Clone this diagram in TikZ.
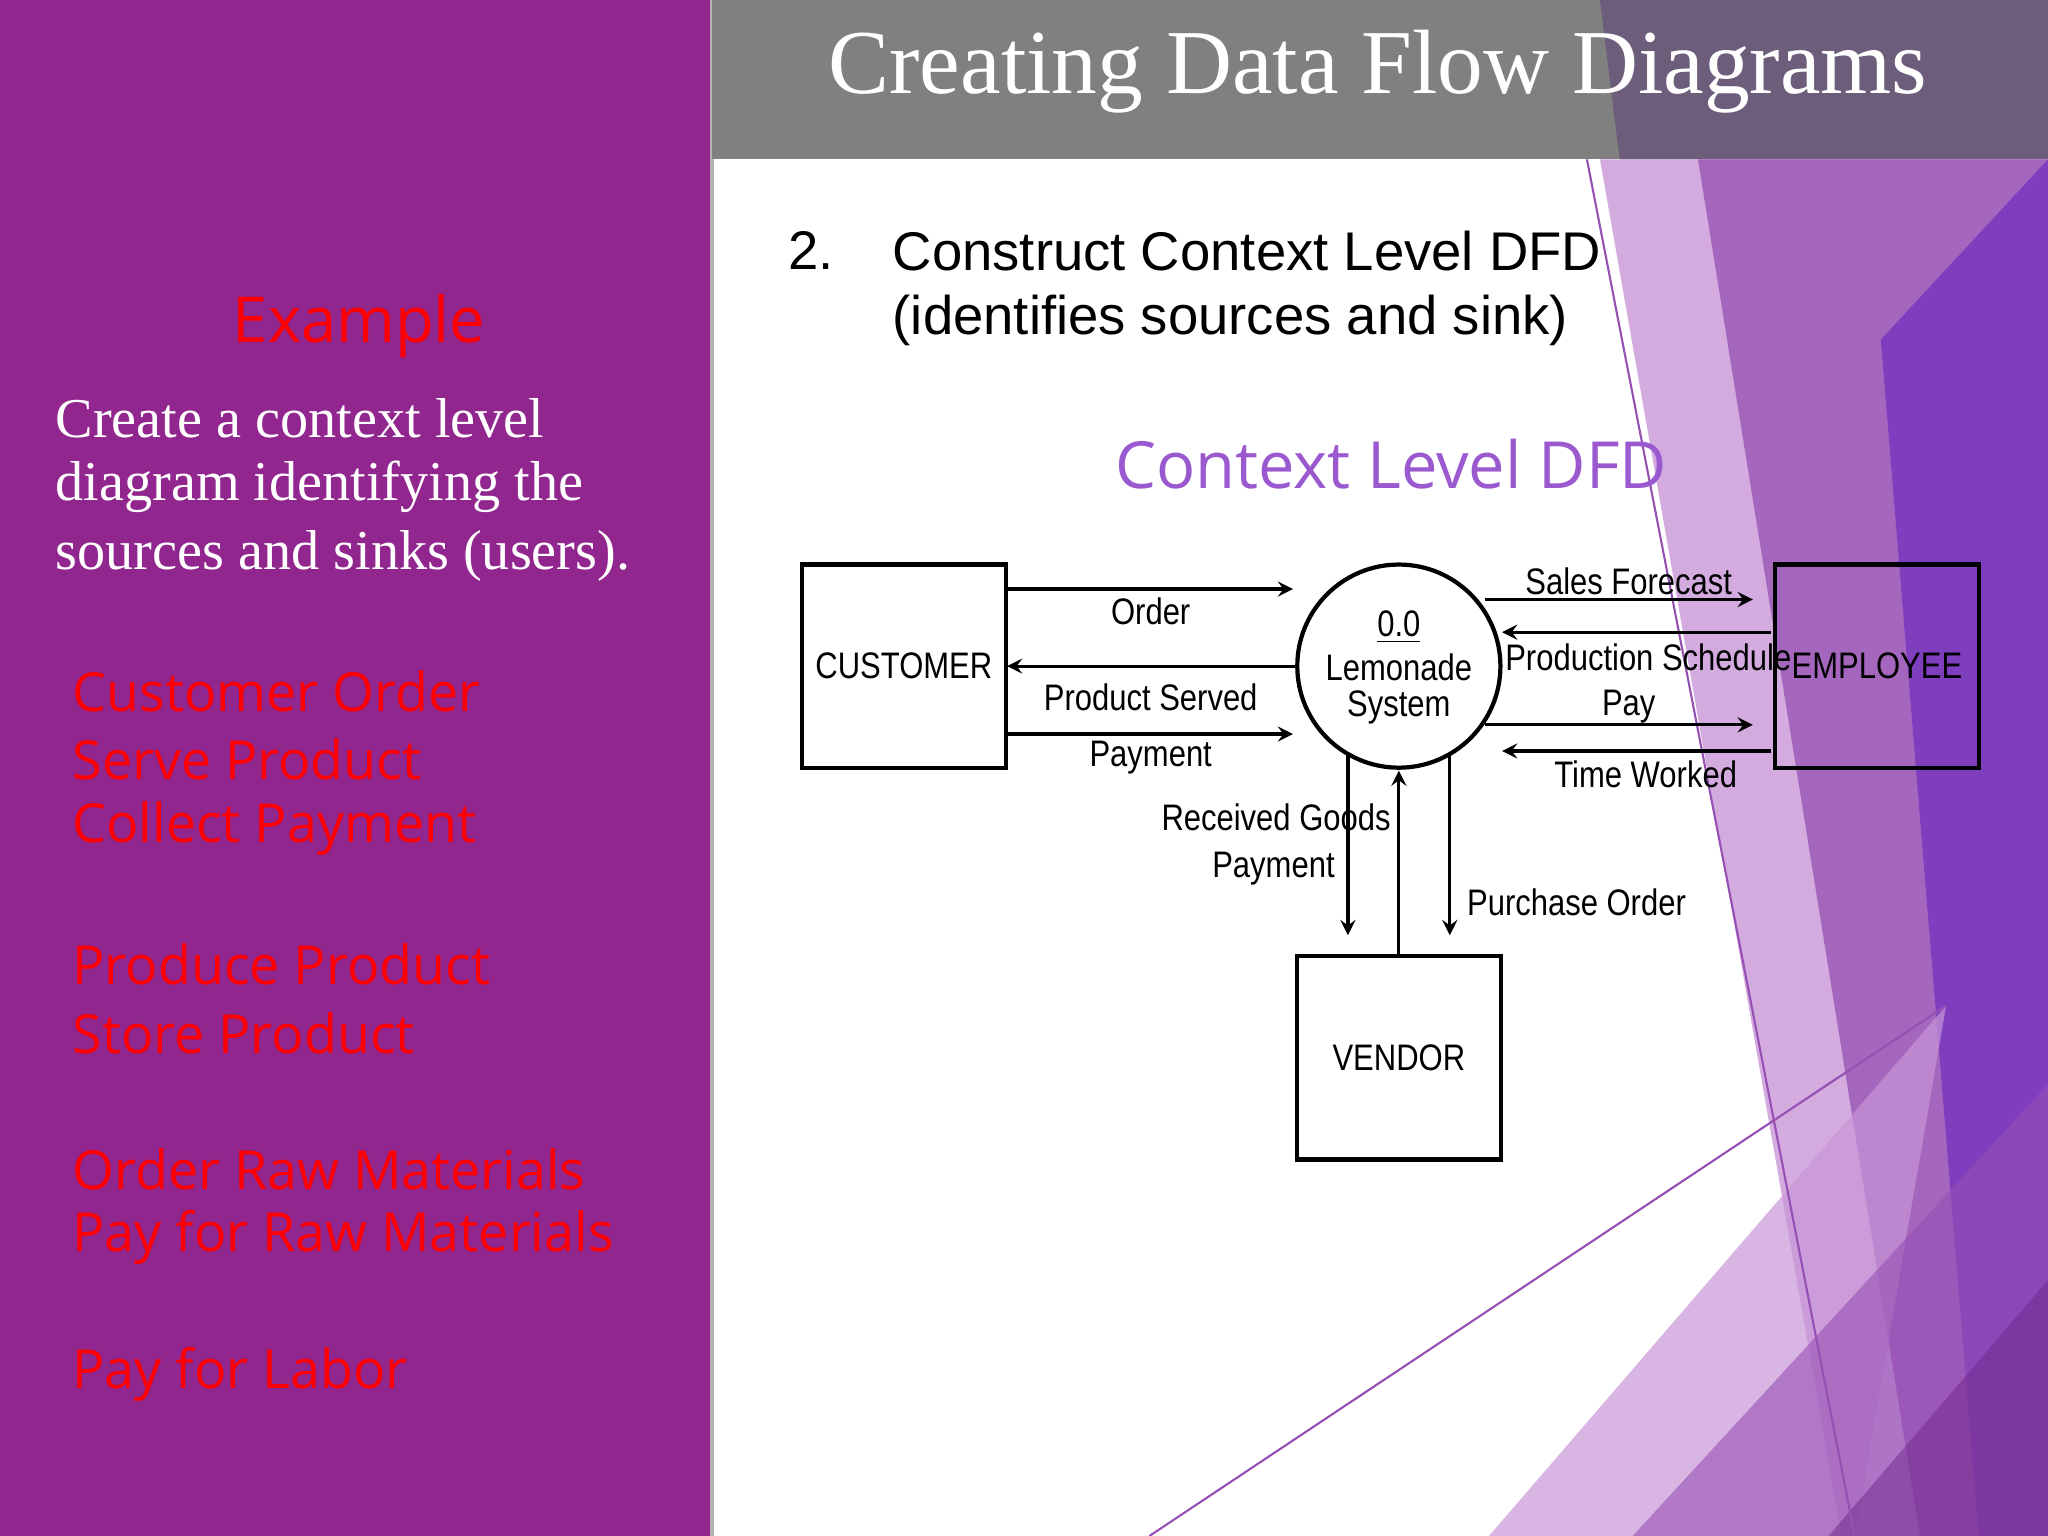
\documentclass[tikz,border=0pt]{standalone}
\usepackage{fontspec}
\usepackage{graphicx}
\setmainfont{Liberation Serif}
\setsansfont{Liberation Sans}
\newfontfamily\osans{Open Sans}
\newcommand\nar[1]{\scalebox{0.84}[1]{#1}}
\definecolor{lav}{RGB}{200,150,215}
\definecolor{mpur}{RGB}{150,80,180}
\definecolor{vio}{RGB}{120,55,190}
\definecolor{dpur}{RGB}{110,40,140}
\begin{document}
\begin{tikzpicture}[x=0.013061cm,y=-0.013061cm,
  ent/.style={draw,line width=1.2pt},
  flow/.style={->,line width=0.9pt,>=stealth},
  lab/.style={font=\sffamily\fontsize{10.5}{12}\selectfont,inner sep=0pt},
  red/.style={font=\osans\fontsize{15.3}{18}\selectfont,text=red,anchor=west,inner sep=0pt},
  wt/.style={font=\fontsize{16}{18}\selectfont,text=white,anchor=west,inner sep=0pt}]
\useasboundingbox (0,0) rectangle (1568,1176);
\fill[white] (0,0) rectangle (1568,1176);
% right decorations
\fill[lav,opacity=0.8] (1225,122) -- (1568,122) -- (1568,1176) -- (1410,1176) -- cycle;
\fill[mpur,opacity=0.75] (1300,122) -- (1568,122) -- (1568,1176) -- (1470,1176) -- cycle;
\fill[vio,opacity=0.85] (1568,122) -- (1568,1176) -- (1515,1176) -- (1440,260) -- cycle;
\fill[lav,opacity=0.7] (1140,1176) -- (1490,770) -- (1420,1176) -- cycle;
\fill[mpur,opacity=0.6] (1250,1176) -- (1568,830) -- (1568,1176) -- cycle;
\fill[dpur,opacity=0.5] (1400,1176) -- (1568,980) -- (1568,1176) -- cycle;
\draw[mpur,line width=0.6pt] (880,1176) -- (1490,770);
\draw[mpur,line width=0.6pt] (1215,122) -- (1420,1176);
% left panel
\fill[fill={rgb,255:red,146;green,38;blue,143}] (0,0) rectangle (545,1176);
\draw[gray!60,line width=1pt] (545,0) -- (545,1176);
% title bar
\fill[gray] (545,0) rectangle (1568,122);
\fill[vio!60!black,opacity=0.35] (1225,0) -- (1568,0) -- (1568,122) -- (1240,122) -- cycle;
\node[text=white,font=\fontsize{26}{30}\selectfont] (title) at (1055,55) {Creating Data Flow Diagrams};
% left text
\node[font=\osans\fontsize{18}{20}\selectfont,text=red] (ex) at (275,250) {Example};
\node[wt] (p1) at (42,320) {Create a context level};
\node[wt] (p2) at (42,373) {diagram identifying the};
\node[wt] (p3) at (42,426) {sources and sinks (users).};
\node[red] (r1) at (55,529) {Customer Order};
\node[red] (r2) at (55,581) {Serve Product};
\node[red] (r3) at (55,634) {Collect Payment};
\node[red] (r4) at (55,738) {Produce Product};
\node[red] (r5) at (55,791) {Store Product};
\node[red] (r6) at (55,895) {Order Raw Materials};
\node[red] (r7) at (55,947) {Pay for Raw Materials};
\node[red] (r8) at (55,1052) {Pay for Labor};
% right text
\node[font=\sffamily\fontsize{15.5}{18}\selectfont,anchor=west,inner sep=0pt] (n2) at (603,192) {2.};
\node[font=\sffamily\fontsize{15.5}{18}\selectfont,anchor=west,inner sep=0pt] (c1) at (683,192) {Construct Context Level DFD};
\node[font=\sffamily\fontsize{15.5}{18}\selectfont,anchor=west,inner sep=0pt] (c2) at (683,245) {(identifies sources and sink)};
\node[font=\osans\fontsize{18.5}{20}\selectfont,text={rgb,255:red,155;green,89;blue,208}] (ctx) at (1065,355) {Context Level DFD};
% DFD
\node[ent,minimum width=157*0.3705pt,minimum height=156*0.3705pt,lab] (cust) at (692,510) {\nar{CUSTOMER}};
\node[ent,minimum width=157*0.3705pt,minimum height=156*0.3705pt,lab] (emp) at (1437,510) {\nar{EMPLOYEE}};
\node[ent,minimum width=157*0.3705pt,minimum height=156*0.3705pt,lab] (ven) at (1071,810) {\nar{VENDOR}};
\node[ent,circle,minimum size=156*0.3705pt,inner sep=0pt] (sys) at (1071,510) {};
\node[lab] (s0) at (1071,480) {\nar{\underline{0.0}}};
\node[lab] (s1) at (1071,511) {\nar{Lemonade}};
\node[lab] (s2) at (1071,542) {\nar{System}};
\coordinate (oa) at (771,451); \coordinate (ob) at (990,451);
\draw[flow] (oa) -- (ob);
\node[lab] (lo) at (881,468) {\nar{Order}};
\coordinate (pa) at (993,510); \coordinate (pb) at (771,510);
\draw[flow] (pa) -- (pb);
\node[lab] (lp) at (881,534) {\nar{Product Served}};
\coordinate (ya) at (771,562); \coordinate (yb) at (990,562);
\draw[flow] (ya) -- (yb);
\node[lab] (ly) at (881,580) {\nar{Payment}};
\coordinate (sa) at (1137,459); \coordinate (sb) at (1342,459);
\draw[flow] (sa) -- (sb);
\node[lab] (ls) at (1247,445) {\nar{Sales Forecast}};
\coordinate (ra) at (1356,484); \coordinate (rb) at (1150,484);
\draw[flow] (ra) -- (rb);
\node[lab] (lr) at (1262,503) {\nar{Production Schedule}};
\coordinate (qa) at (1137,555); \coordinate (qb) at (1342,555);
\draw[flow] (qa) -- (qb);
\node[lab] (lq) at (1247,541) {\nar{Pay}};
\coordinate (ta) at (1356,575); \coordinate (tb) at (1150,575);
\draw[flow] (ta) -- (tb);
\node[lab] (lt) at (1260,593) {\nar{Time Worked}};
\coordinate (ga) at (1071,732); \coordinate (gb) at (1071,590);
\draw[flow] (ga) -- (gb);
\node[lab] (lg) at (977,626) {\nar{Received Goods}};
\coordinate (va) at (1032,578); \coordinate (vb) at (1032,716);
\draw[flow] (va) -- (vb);
\node[lab] (lv) at (975,665) {\nar{Payment}};
\coordinate (ua) at (1110,578); \coordinate (ub) at (1110,716);
\draw[flow] (ua) -- (ub);
\node[lab] (lu) at (1207,691) {\nar{Purchase Order}};
\end{tikzpicture}
\end{document}
